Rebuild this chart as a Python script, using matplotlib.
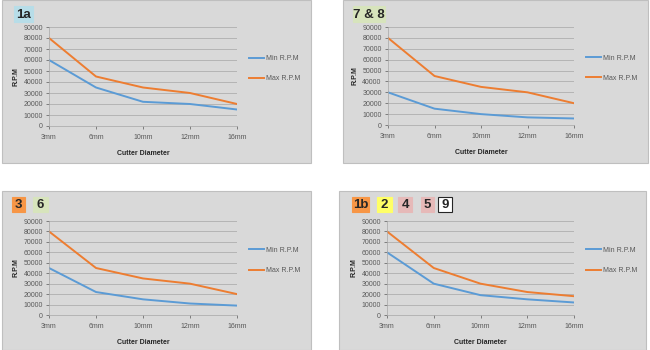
import matplotlib
matplotlib.use("Agg")
from matplotlib import pyplot as plt
from matplotlib.patches import Rectangle

cutters = ["3mm", "6mm", "10mm", "12mm", "16mm"]

min_1a = [60000, 35000, 22000, 20000, 15000]
max_1a = [80000, 45000, 35000, 30000, 20000]

min_78 = [30000, 15000, 10000, 7000, 6000]
max_78 = [80000, 45000, 35000, 30000, 20000]

min_36 = [45000, 22000, 15000, 11000, 9000]
max_36 = [80000, 45000, 35000, 30000, 20000]

min_1b = [60000, 30000, 19000, 15000, 12000]
max_1b = [80000, 45000, 30000, 22000, 18000]

W, H = 650, 350
BLUE = "#5b9bd5"
ORANGE = "#ed7d31"
PANEL = "#d9d9d9"

plt.rcParams['font.family'] = ['Liberation Sans', 'DejaVu Sans']

fig = plt.figure(figsize=(6.5, 3.5), dpi=100)
fig.patch.set_facecolor("white")

def rect(x0, y0, x1, y1):
	# pixel box -> figure fraction
	return [x0 / W, 1 - y1 / H, (x1 - x0) / W, (y1 - y0) / H]

def panel(x0, y0, x1, y1):
	r = rect(x0, y0, x1, y1)
	fig.patches.append(Rectangle((r[0], r[1]), r[2], r[3], transform=fig.transFigure,
		facecolor=PANEL, edgecolor="#bfbfbf", linewidth=0.8, zorder=-2))

def tag(x0, y0, x1, y1, text, color, edge=None):
	r = rect(x0, y0, x1, y1)
	fig.patches.append(Rectangle((r[0], r[1]), r[2], r[3], transform=fig.transFigure,
		facecolor=color, edgecolor=edge if edge else color, linewidth=0.8, zorder=-1))
	fig.text(r[0] + r[2] / 2, r[1] + r[3] / 2 - 0.002, text, ha="center", va="center",
		fontsize=9.5, fontweight="bold", color="#262626", zorder=2)

def chart(box, mins, maxs):
	ax = fig.add_axes(rect(*box))
	ax.set_zorder(3)
	ax.patch.set_alpha(0)
	x = range(len(cutters))
	ax.plot(x, mins, color=BLUE, linewidth=1.4, label="Min R.P.M")
	ax.plot(x, maxs, color=ORANGE, linewidth=1.4, label="Max R.P.M")
	ax.set_xlim(0, len(cutters) - 1)
	ax.set_ylim(0, 90000)
	ax.set_yticks(range(0, 90001, 10000))
	ax.set_xticks(x)
	ax.set_xticklabels(cutters)
	ax.tick_params(labelsize=5, colors="#595959", length=2, width=0.5, pad=2.5)
	ax.tick_params(axis="x", pad=4)
	ax.grid(axis="y", color="#a6a6a6", linewidth=0.5)
	for s in ["top", "right"]:
		ax.spines[s].set_visible(False)
	ax.spines["left"].set_color("#a6a6a6")
	ax.spines["bottom"].set_color("#a6a6a6")
	ax.spines["left"].set_linewidth(0.5)
	ax.spines["bottom"].set_linewidth(0.5)
	ax.set_xlabel("Cutter Diameter", fontsize=5, fontweight="bold", color="#262626", labelpad=6)
	ax.set_ylabel("R.P.M", fontsize=5, fontweight="bold", color="#262626", labelpad=3)
	ax.legend(loc="center left", bbox_to_anchor=(1.03, 0.58), frameon=False,
		fontsize=5, labelspacing=1.9, handlelength=2.2, handletextpad=0.3,
		labelcolor="#595959")
	return ax

panel(2, 0, 311, 163)
panel(343, 0, 648, 163)
panel(2, 191, 311, 350)
panel(339, 191, 646, 350)

chart((49, 27, 237, 126), min_1a, max_1a)
chart((388, 27, 574, 125), min_78, max_78)
chart((49, 221, 237, 315), min_36, max_36)
chart((387, 221, 574, 315), min_1b, max_1b)

tag(14, 6, 33, 22, "1a", "#b7dde8")
tag(353, 6, 385, 22, "7 & 8", "#d7e4bc")
tag(12, 197, 25, 212, "3", "#f79646")
tag(33, 197, 48, 212, "6", "#d7e4bc")
tag(352, 197, 369, 212, "1b", "#f79646")
tag(377, 197, 392, 212, "2", "#ffff66")
tag(398, 197, 412, 212, "4", "#e6b9b8")
tag(421, 197, 434, 212, "5", "#e6b9b8")
tag(438, 197, 452, 212, "9", "white", edge="#262626")

fig.savefig("out.png", dpi=100)
